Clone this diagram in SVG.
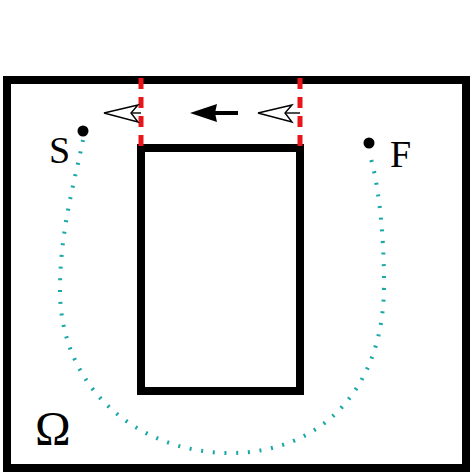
<svg xmlns="http://www.w3.org/2000/svg" width="474" height="476" viewBox="0 0 474 476">
<style>
.box{fill:none;stroke:#000;stroke-width:8}
.red{stroke:#e8161b;stroke-width:5;stroke-dasharray:11 8;fill:none}
.open{fill:#fff;stroke:#000;stroke-width:1.4;stroke-linejoin:miter}
.lbl{font-family:"Liberation Serif","Times New Roman",serif;fill:#000}
.path{fill:none;stroke:#1aa7a7;stroke-width:4;stroke-dasharray:2 9.7}
</style>
<rect width="474" height="476" fill="#fff"/>
<g id="domain">
<rect class="box" x="7" y="80" width="459" height="388"/>
<text class="lbl" x="35" y="445" font-size="48">Ω</text>
</g>
<g id="obstacle">
<rect class="box" x="141" y="148" width="159" height="243"/>
</g>
<g id="boundaries">
<line class="red" x1="141" y1="78" x2="141" y2="146"/>
<line class="red" x1="300" y1="78" x2="300" y2="146"/>
</g>
<g id="connectors">
<path class="path" d="M83 140 C75 180,60 230,60 290 C60 390,140 453,230 453 C320 453,384 390,384 285 C384 230,378 180,369 152"/>
<line x1="131" y1="113" x2="141" y2="113" stroke="#000" stroke-width="1.4"/>
<polygon class="open" points="104,113 138,105 131,113 138,122"/>
<line x1="285" y1="113" x2="300" y2="113" stroke="#000" stroke-width="1.4"/>
<polygon class="open" points="258,113 292,105 285,113 292,122"/>
<line x1="214" y1="113" x2="238" y2="113" stroke="#000" stroke-width="4"/>
<polygon points="190,113 217,104 215,113 217,122" fill="#000"/>
</g>
<g id="S">
<circle cx="83" cy="131" r="5.5"/>
<text class="lbl" x="49" y="163" font-size="38">S</text>
</g>
<g id="F">
<circle cx="369" cy="143" r="5.5"/>
<text class="lbl" x="390" y="167" font-size="38">F</text>
</g>
</svg>
